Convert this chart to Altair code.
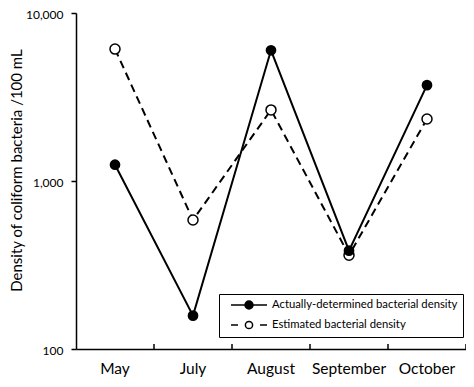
import altair as alt
import pandas as pd

months = ["May", "July", "August", "September", "October"]
actual = [1250, 158, 6000, 385, 3720]
estimated = [6100, 586, 2650, 362, 2340]
series_names = ["Actually-determined bacterial density", "Estimated bacterial density"]
y_ticks = [100, 1000, 10000]

rows = []
for m, a, e in zip(months, actual, estimated):
    rows.append({"month": m, "series": series_names[0], "value": a})
    rows.append({"month": m, "series": series_names[1], "value": e})
df = pd.DataFrame(rows)

FONT = "Lato"
W, H = 390, 336

xscale = alt.Scale(type="band", domain=months, paddingInner=0, paddingOuter=0)
yscale = alt.Scale(type="log", domain=[100, 10000], nice=False)

x_axis = alt.Axis(title=None, ticks=False, labelAngle=0, labelPadding=12,
                  labelFont=FONT, labelFontSize=15.5, labelColor="black",
                  domainColor="black", domainWidth=1.5)
y_axis = alt.Axis(values=y_ticks, format=",", title="Density of coliform bacteria /100 mL",
                  labelFont=FONT, labelFontSize=12, labelColor="black", labelPadding=8,
                  labelOffset=1.5,
                  tickSize=5, tickColor="black", tickWidth=1.5,
                  domainColor="black", domainWidth=1.5, grid=False,
                  titleFont=FONT, titleFontSize=15, titleFontWeight="normal", titleColor="black",
                  titleX=-55, titleY=157, titleAngle=270, titleBaseline="alphabetic", titleAlign="center")

x_enc = alt.X("month:N", scale=xscale, sort=months, axis=x_axis)
y_enc = alt.Y("value:Q", scale=yscale, axis=y_axis)

base = alt.Chart(df)
act = base.transform_filter(alt.datum.series == series_names[0])
est = base.transform_filter(alt.datum.series == series_names[1])

line_act = act.mark_line(color="black", strokeWidth=2).encode(x=x_enc, y=y_enc)
line_est = est.mark_line(color="black", strokeWidth=2, strokeDash=[8, 5]).encode(x=x_enc, y=y_enc)
pt_act = act.mark_point(shape="circle", filled=True, color="black", size=115, opacity=1).encode(x=x_enc, y=y_enc)
pt_est = est.mark_point(shape="circle", filled=False, fill="white", stroke="black",
                        strokeWidth=1.5, size=100, opacity=1).encode(x=x_enc, y=y_enc)

ticks = alt.Chart(pd.DataFrame({"month": months})).mark_rule(color="black", strokeWidth=1.5).encode(
    x=alt.X("month:N", scale=xscale, sort=months, axis=x_axis, bandPosition=1),
    y=alt.value(H - 5), y2=alt.value(H))


def ring(r):
    return f"M{r},0A{r},{r},0,1,1,-{r},0A{r},{r},0,1,1,{r},0Z"


path_a = "M-3.6,0H3.6" + ring(0.8) + ring(0.55) + ring(0.3) + ring(0.08)
path_e = "M-3.6,0H-2.2M2.2,0H3.6" + ring(0.72)

leg = alt.Legend(title=None, orient="none", legendX=143, legendY=281, direction="vertical",
                 strokeColor="black", fillColor="white", padding=5, symbolOffset=19,
                 labelOffset=17, rowPadding=6, labelFont=FONT, labelFontSize=11.3,
                 labelColor="black", symbolSize=100, symbolStrokeColor="black",
                 symbolFillColor="white", symbolStrokeWidth=1.5, labelLimit=0, symbolOpacity=1)

legend_layer = alt.Chart(df).transform_filter("false").mark_point(
    filled=False, stroke="black", strokeWidth=1.5, opacity=1).encode(
    shape=alt.Shape("series:N", scale=alt.Scale(domain=series_names, range=[path_a, path_e]), legend=leg),
)

chart = alt.layer(ticks, line_est, line_act, pt_est, pt_act, legend_layer).properties(
    width=W, height=H,
    autosize=alt.AutoSizeParams(type="none"),
    padding={"left": 68, "top": 5, "right": 0, "bottom": 30},
    background="white",
).configure_view(stroke=None)

chart.save("out.html", embed_options={"renderer": "svg", "actions": False})
